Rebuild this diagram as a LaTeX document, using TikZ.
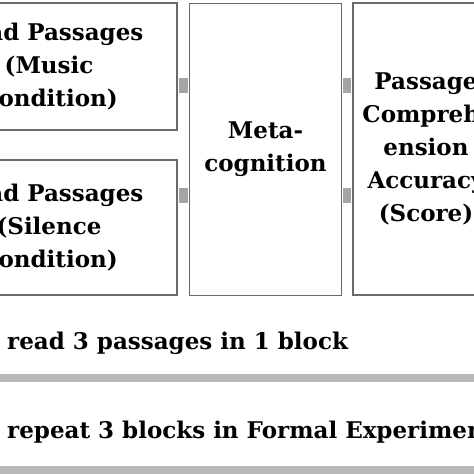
\documentclass[tikz,border=0pt]{standalone}
\usepackage{fontspec}
\setmainfont{DejaVu Serif}
\usepackage{tikz}

\definecolor{boxgray}{HTML}{6A6A6A}
\definecolor{linkgray}{HTML}{A5A5A5}
\definecolor{bargray}{HTML}{B9B9B9}

\tikzset{
  stagebox/.style={draw=boxgray, line width=1.6pt, align=center, inner sep=0pt,
    font=\bfseries\fontsize{23}{33}\selectfont},
  link/.style={draw=linkgray, line width=15pt, shorten <=0.8pt, shorten >=0.8pt},
  steptext/.style={anchor=base west, inner sep=0pt,
    font=\bfseries\fontsize{23}{27}\selectfont}
}

\begin{document}
\begin{tikzpicture}[x=1pt,y=-1pt]
				\useasboundingbox (0,0) rectangle (474,474);
				\clip (0,0) rectangle (474,474);
				% stages of one block
				\node[stagebox, minimum width=256pt, minimum height=127pt] (music) at (49,66.5) {Read Passages\\(Music\\Condition)};
				\node[stagebox, minimum width=256pt, minimum height=135pt] (silence) at (49,227.5) {Read Passages\\(Silence\\Condition)};
				\node[stagebox, minimum width=152pt, minimum height=292pt] (meta) at (265.5,149.5) {Meta-\\cognition};
				\node[stagebox, minimum width=146pt, minimum height=292pt] (score) at (426,149) {Passage\\Compreh-\\ension\\Accuracy\\(Score)};
				\draw[link] ([yshift=-19pt]music.east) -- ([yshift=-19pt]music.east -| meta.west);
				\draw[link] ([yshift=32pt]silence.east) -- ([yshift=32pt]silence.east -| meta.west);
				\draw[link] ([yshift=63.5pt]score.west) -- ([yshift=63.5pt]score.west -| meta.east);
				\draw[link] ([yshift=-46.5pt]score.west) -- ([yshift=-46.5pt]score.west -| meta.east);
				% block and experiment
				\node[steptext] (block) at (7,349) {read 3 passages in 1 block};
				\fill[bargray] (0,374) rectangle (474,382);
				\node[steptext] (formal) at (7,438) {repeat 3 blocks in Formal Experiment};
				\fill[bargray] (0,466) rectangle (474,474);
\end{tikzpicture}
\end{document}
